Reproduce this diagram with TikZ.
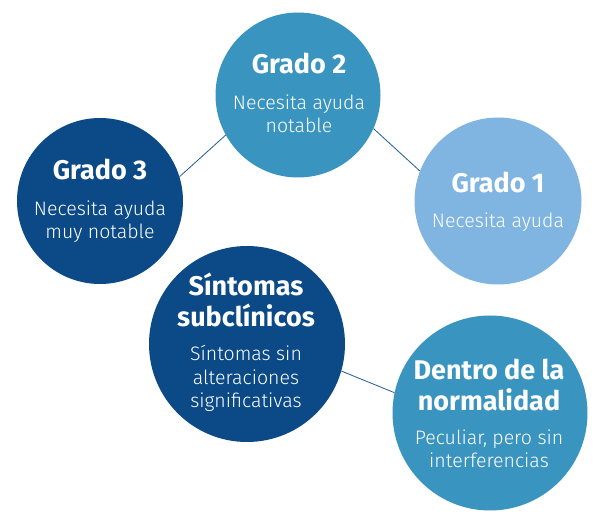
\documentclass[tikz,border=0pt]{standalone}
\usepackage{fontspec}
\setmainfont{Fira Sans Light}[BoldFont={Fira Sans Bold}]
\definecolor{cmid}{HTML}{3A94C0}
\definecolor{cdark}{HTML}{0B4A87}
\definecolor{clight}{HTML}{80B4E1}
\definecolor{cline}{HTML}{1F5A9A}
\begin{document}
\begin{tikzpicture}[x=1pt,y=-1pt,
  blob/.style={circle,draw=none,inner sep=0pt,minimum size=#1},
  ttl/.style={anchor=base,text=white,inner sep=0pt,font=\fontsize{27}{31}\selectfont\bfseries},
  sub/.style={anchor=base,text=white,inner sep=0pt,font=\fontsize{19.5}{23.5}\selectfont},
  link/.style={draw=cline,line width=0.8pt}]
\useasboundingbox (0,0) rectangle (595,526);
\node[blob=165pt,fill=cmid] (g2) at (298,95) {};
\node[blob=166pt,fill=cdark] (g3) at (100,201) {};
\node[blob=167pt,fill=clight] (g1) at (498,201) {};
\node[blob=196pt,fill=cdark] (st) at (247,344) {};
\node[blob=195pt,fill=cmid] (dn) at (490,413) {};
\draw[link] (g3.17) -- (g2.209);
\draw[link] (g2.336) -- (g1.159);
\draw[link] (st.344) -- (dn.168);
\node[ttl] (g2t) at (299,74) {Grado 2};
\node[sub] (g2s1) at (299,110) {Necesita ayuda};
\node[sub] (g2s2) at (299,133) {notable};
\node[ttl] (g3t) at (100,180) {Grado 3};
\node[sub] (g3s1) at (100,216) {Necesita ayuda};
\node[sub] (g3s2) at (100,239) {muy notable};
\node[ttl] (g1t) at (498,193) {Grado 1};
\node[sub] (g1s) at (498,228) {Necesita ayuda};
\node[ttl] (stt1) at (246,296) {Síntomas};
\node[ttl] (stt2) at (246,327) {subclínicos};
\node[sub] (sts1) at (246,361) {Síntomas sin};
\node[sub] (sts2) at (246,385) {alteraciones};
\node[sub] (sts3) at (246,408) {significativas};
\node[ttl] (dnt1) at (489,380) {Dentro de la};
\node[ttl] (dnt2) at (489,411) {normalidad};
\node[sub] (dns1) at (489,445) {Peculiar, pero sin};
\node[sub] (dns2) at (489,468) {interferencias};
\end{tikzpicture}
\end{document}
